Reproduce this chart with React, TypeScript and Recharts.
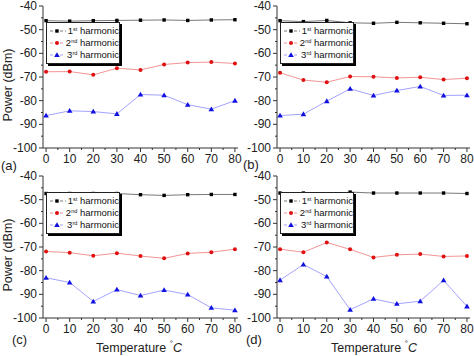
import { LineChart, Line, XAxis, YAxis, Legend } from 'recharts'

const TEMPS = [0, 10, 20, 30, 40, 50, 60, 70, 80]

// panel (a)
const A_H1 = [-46.2, -46.4, -46.2, -46.1, -46.0, -45.9, -46.1, -45.9, -45.8]
const A_H2 = [-67.8, -67.7, -69.1, -66.3, -67.0, -64.7, -63.9, -63.7, -64.3]
const A_H3 = [-86.3, -84.3, -84.6, -85.6, -77.4, -77.7, -81.7, -83.6, -80.0]
// panel (b)
const B_H1 = [-46.2, -46.6, -46.1, -47.1, -47.3, -46.9, -47.1, -47.3, -47.5]
const B_H2 = [-68.2, -71.3, -72.2, -69.8, -69.9, -70.4, -70.1, -71.1, -70.5]
const B_H3 = [-86.3, -85.7, -80.2, -75.0, -77.8, -75.7, -74.0, -77.8, -77.7]
// panel (c)
const C_H1 = [-47.4, -47.4, -47.4, -47.4, -47.9, -48.2, -47.9, -47.8, -47.8]
const C_H2 = [-71.9, -72.4, -73.7, -72.6, -73.8, -74.8, -72.7, -72.2, -70.9]
const C_H3 = [-83.0, -85.0, -93.0, -88.0, -90.5, -88.2, -90.1, -95.7, -96.7]
// panel (d)
const D_H1 = [-47.2, -47.2, -47.9, -46.8, -47.2, -47.2, -47.2, -47.2, -47.4]
const D_H2 = [-70.9, -72.2, -68.1, -71.0, -74.4, -73.3, -73.0, -74.0, -73.8]
const D_H3 = [-84.0, -77.4, -82.5, -96.5, -91.9, -94.0, -92.9, -84.1, -95.1]

const X_TICKS = [0, 5, 10, 15, 20, 25, 30, 35, 40, 45, 50, 55, 60, 65, 70, 75, 80]
const Y_TICKS = [-100, -95, -90, -85, -80, -75, -70, -65, -60, -55, -50, -45, -40]

const FONT = '"Liberation Sans", Arial, sans-serif'
const AXIS = '#333'
const PAD = 8

const squareDot = (p: any) => (
  <rect key={`s${p.index}`} x={p.cx - 1.7} y={p.cy - 1.7} width={3.4} height={3.4} fill="#000" />
)
const circleDot = (p: any) => <circle key={`c${p.index}`} cx={p.cx} cy={p.cy} r={2} fill="#e01010" />
const triDot = (p: any) => (
  <path
    key={`t${p.index}`}
    d={`M${p.cx},${p.cy - 2.8} L${p.cx + 2.8},${p.cy + 2} L${p.cx - 2.8},${p.cy + 2} Z`}
    fill="#1010e0"
  />
)

const SERIES = [
  { key: 'h1', ord: '1', sup: 'st', line: '#555', dot: squareDot },
  { key: 'h2', ord: '2', sup: 'nd', line: '#f07878', dot: circleDot },
  { key: 'h3', ord: '3', sup: 'rd', line: '#8a8aff', dot: triDot },
]

const YTick = (p: any) => {
  const v = p.payload.value
  const major = v % 10 === 0
  return (
    <g>
      <line x1={p.x} x2={p.x - (major ? 4 : 2)} y1={p.y} y2={p.y} stroke={AXIS} />
      {major && (
        <text x={p.x - 6} y={p.y} textAnchor="end" dominantBaseline="central" fontSize={12} fill="#222" fontFamily={FONT}>
          {v}
        </text>
      )}
    </g>
  )
}

const XTick = (p: any) => {
  const v = p.payload.value
  const major = v % 10 === 0
  return (
    <g>
      <line x1={p.x} x2={p.x} y1={p.y} y2={p.y + (major ? 4 : 2)} stroke={AXIS} />
      {major && (
        <text x={p.x} y={p.y + 11} textAnchor="middle" dominantBaseline="central" fontSize={12} fill="#222" fontFamily={FONT}>
          {v}
        </text>
      )}
    </g>
  )
}

function LegendBox() {
  return (
    <div
      style={{
        width: 70,
        background: '#fff',
        border: '1px solid #222',
        boxShadow: '2px 2px 0 #000',
        padding: '2px 0 2px 2px',
        fontFamily: FONT,
        fontSize: 9.5,
        color: '#111',
        lineHeight: '12px',
      }}
    >
      {SERIES.map((s) => (
        <div key={s.key} style={{ display: 'flex', alignItems: 'center', whiteSpace: 'nowrap' }}>
          <svg width={22} height={12} style={{ marginRight: 2 }}>
            <line x1={1} x2={21} y1={6} y2={6} stroke={s.line} strokeWidth={0.8} strokeDasharray="3 2" />
            {s.dot({ cx: 8, cy: 6, index: 0 })}
          </svg>
          <span>
            {s.ord}
            <sup style={{ fontSize: 5.5, verticalAlign: 'top', lineHeight: '8px' }}>{s.sup}</sup> harmonic
          </span>
        </div>
      ))}
    </div>
  )
}

interface PanelProps {
  h1: number[]
  h2: number[]
  h3: number[]
  L: number
  T: number
  R: number
  B: number
}

function Panel({ h1, h2, h3, L, T, R, B }: PanelProps) {
  const data = TEMPS.map((t, i) => ({ t, h1: h1[i], h2: h2[i], h3: h3[i] }))
  return (
    <div style={{ position: 'absolute', left: L - 40, top: T - PAD }}>
      <LineChart
        width={R - L + 44}
        height={B - T + PAD + 20}
        data={data}
        margin={{ top: PAD, right: 4, left: 0, bottom: 0 }}
      >
        <XAxis
          dataKey="t"
          type="number"
          domain={[-1.3, 81.3]}
          ticks={X_TICKS}
          interval={0}
          tick={XTick}
          tickLine={false}
          tickSize={0}
          tickMargin={0}
          height={20}
          axisLine={{ stroke: AXIS }}
        />
        <XAxis
          xAxisId="top"
          orientation="top"
          dataKey="t"
          type="number"
          domain={[-1.3, 81.3]}
          tick={false}
          tickLine={false}
          height={0}
          axisLine={{ stroke: AXIS }}
        />
        <YAxis
          type="number"
          domain={[-100, -40]}
          ticks={Y_TICKS}
          interval={0}
          tick={YTick}
          tickLine={false}
          tickSize={0}
          tickMargin={0}
          width={40}
          axisLine={{ stroke: AXIS }}
        />
        <YAxis
          yAxisId="right"
          orientation="right"
          type="number"
          domain={[-100, -40]}
          tick={false}
          tickLine={false}
          width={0}
          axisLine={{ stroke: AXIS }}
        />
        <Legend
          layout="horizontal"
          verticalAlign="middle"
          content={<LegendBox />}
          wrapperStyle={{ left: 43, top: PAD + 16, width: 72 }}
        />
        {SERIES.map((s) => (
          <Line
            key={s.key}
            dataKey={s.key}
            type="linear"
            stroke={s.line}
            strokeWidth={0.8}
            dot={s.dot}
            activeDot={false}
            isAnimationActive={false}
          />
        ))}
      </LineChart>
    </div>
  )
}

const textBase = { position: 'absolute' as const, fontFamily: FONT, color: '#222', whiteSpace: 'nowrap' as const }

function YTitle({ cy }: { cy: number }) {
  return (
    <div
      style={{
        ...textBase,
        fontSize: 12.5,
        left: 8,
        top: cy,
        transform: 'translate(-50%, -50%) rotate(-90deg)',
      }}
    >
      Power (dBm)
    </div>
  )
}

function XTitle({ cx }: { cx: number }) {
  return (
    <div style={{ ...textBase, fontSize: 12.5, left: cx, top: 347, transform: 'translate(-50%, -50%)' }}>
      Temperature <sup style={{ fontSize: 8 }}>°</sup>
      <i>C</i>
    </div>
  )
}

function Tag({ x, y, t }: { x: number; y: number; t: string }) {
  return <div style={{ ...textBase, fontSize: 13, left: x, top: y, transform: 'translateY(-50%)' }}>{t}</div>
}

export default function App() {
  return (
    <div style={{ position: 'absolute', left: 0, top: 0, width: 474, height: 356, background: '#fff', overflow: 'hidden' }}>
      <Panel h1={A_H1} h2={A_H2} h3={A_H3} L={43} T={6} R={238} B={148} />
      <Panel h1={B_H1} h2={B_H2} h3={B_H3} L={277} T={6} R={470} B={148} />
      <Panel h1={C_H1} h2={C_H2} h3={C_H3} L={43} T={176} R={238} B={318} />
      <Panel h1={D_H1} h2={D_H2} h3={D_H3} L={277} T={176} R={470} B={318} />
      <YTitle cy={85} />
      <YTitle cy={255} />
      <XTitle cx={139} />
      <XTitle cx={374} />
      <Tag x={1} y={165} t="(a)" />
      <Tag x={243} y={164} t="(b)" />
      <Tag x={12} y={339} t="(c)" />
      <Tag x={246} y={339} t="(d)" />
    </div>
  )
}
